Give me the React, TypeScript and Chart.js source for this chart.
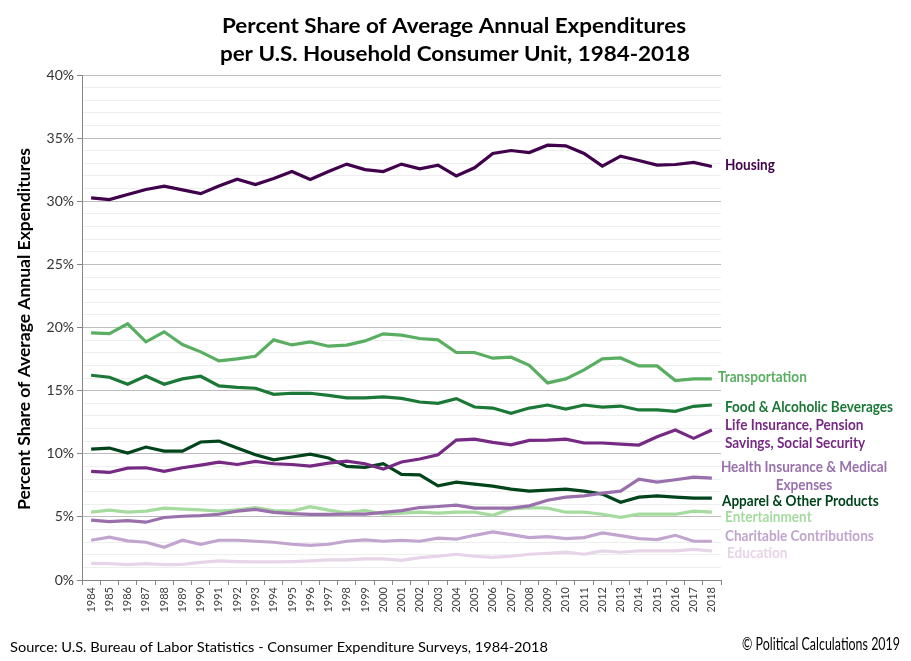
import React, { useEffect, useRef } from 'react';
import { Chart, registerables } from 'chart.js';

Chart.register(...registerables);

const years = ['1984','1985','1986','1987','1988','1989','1990','1991','1992','1993','1994','1995','1996','1997','1998','1999','2000','2001','2002','2003','2004','2005','2006','2007','2008','2009','2010','2011','2012','2013','2014','2015','2016','2017','2018'];

const housing = [30.26,30.13,30.53,30.93,31.19,30.9,30.6,31.2,31.75,31.32,31.8,32.35,31.72,32.35,32.94,32.51,32.35,32.94,32.57,32.86,32.01,32.65,33.78,34.02,33.86,34.44,34.39,33.78,32.78,33.57,33.23,32.86,32.91,33.07,32.75];
const transportation = [19.58,19.52,20.29,18.86,19.66,18.65,18.07,17.35,17.51,17.72,19.02,18.62,18.86,18.52,18.6,18.94,19.5,19.39,19.13,19.02,18.02,18.02,17.57,17.65,17.01,15.61,15.93,16.64,17.51,17.59,16.96,16.96,15.8,15.93,15.93];
const food = [16.22,16.06,15.5,16.16,15.5,15.93,16.14,15.37,15.26,15.19,14.71,14.79,14.79,14.63,14.42,14.42,14.5,14.39,14.1,13.99,14.37,13.7,13.62,13.2,13.62,13.86,13.54,13.86,13.7,13.78,13.47,13.47,13.36,13.76,13.86];
const lifeInsurance = [8.6,8.52,8.86,8.89,8.6,8.89,9.1,9.34,9.15,9.39,9.21,9.15,9.02,9.26,9.42,9.21,8.78,9.35,9.58,9.92,11.08,11.16,10.9,10.71,11.06,11.08,11.16,10.85,10.85,10.77,10.69,11.35,11.88,11.22,11.88];
const healthInsurance = [4.74,4.63,4.71,4.58,4.95,5.05,5.1,5.21,5.45,5.6,5.36,5.25,5.2,5.2,5.22,5.22,5.36,5.5,5.74,5.82,5.93,5.69,5.69,5.69,5.87,6.32,6.56,6.67,6.88,7.04,7.99,7.75,7.94,8.15,8.07];
const apparel = [10.37,10.45,10.05,10.53,10.21,10.21,10.93,11.0,10.45,9.92,9.52,9.74,9.97,9.66,9.0,8.92,9.22,8.37,8.33,7.46,7.75,7.59,7.43,7.2,7.04,7.12,7.2,7.04,6.8,6.16,6.56,6.67,6.56,6.48,6.48];
const entertainment = [5.37,5.53,5.37,5.45,5.69,5.61,5.56,5.45,5.56,5.73,5.49,5.46,5.81,5.54,5.33,5.52,5.22,5.3,5.37,5.29,5.37,5.37,5.13,5.63,5.74,5.69,5.37,5.37,5.21,4.97,5.21,5.21,5.21,5.45,5.37];
const charitable = [3.15,3.39,3.1,2.99,2.59,3.15,2.83,3.15,3.15,3.07,2.99,2.83,2.75,2.83,3.07,3.17,3.07,3.15,3.07,3.31,3.23,3.54,3.81,3.6,3.36,3.44,3.28,3.36,3.73,3.52,3.28,3.2,3.54,3.07,3.07];
const education = [1.32,1.3,1.22,1.3,1.22,1.24,1.4,1.51,1.46,1.43,1.43,1.46,1.51,1.59,1.59,1.67,1.67,1.56,1.77,1.88,2.04,1.88,1.8,1.88,2.04,2.12,2.2,2.04,2.3,2.2,2.3,2.3,2.3,2.43,2.3];

const TITLE = ['Percent Share of Average Annual Expenditures', 'per U.S. Household Consumer Unit, 1984-2018'];
const Y_TITLE = 'Percent Share of Average Annual Expenditures';
const SOURCE = 'Source: U.S. Bureau of Labor Statistics - Consumer Expenditure Surveys, 1984-2018';
const COPYRIGHT = '\u00A9 Political Calculations 2019';

const C = {
  housing: '#40004b',
  life: '#762a83',
  health: '#9970ab',
  charitable: '#c2a5cf',
  education: '#e7d4e8',
  entertainment: '#a6dba0',
  transportation: '#5aae61',
  food: '#1b7837',
  apparel: '#00441b',
};

const FONT = 'Lato, "Open Sans", sans-serif';

// right-hand series labels: text lines, colour, x position, y (in % units) per line, alignment
const LABELS = [
  { lines: ['Housing'], color: C.housing, x: 725, at: [32.87], align: 'left' },
  { lines: ['Transportation'], color: C.transportation, x: 718, at: [16.08], align: 'left' },
  { lines: ['Food & Alcoholic Beverages'], color: C.food, x: 725, at: [13.7], align: 'left' },
  { lines: ['Life Insurance, Pension', 'Savings, Social Security'], color: C.life, x: 725, at: [12.28, 10.85], align: 'left' },
  { lines: ['Health Insurance & Medical', 'Expenses'], color: C.health, x: 804, at: [8.95, 7.52], align: 'center' },
  { lines: ['Apparel & Other Products'], color: C.apparel, x: 722, at: [6.26], align: 'left' },
  { lines: ['Entertainment'], color: C.entertainment, x: 725, at: [4.99], align: 'left' },
  { lines: ['Charitable Contributions'], color: C.charitable, x: 725, at: [3.49], align: 'left' },
  { lines: ['Education'], color: C.education, x: 727, at: [2.14], align: 'left' },
];

// draw text at a given font size, condensed horizontally by factor sx
function drawText(
  ctx: CanvasRenderingContext2D, text: string, x: number, y: number,
  size: number, weight: string, sx: number, align: CanvasTextAlign,
) {
  ctx.save();
  ctx.translate(x, y);
  ctx.scale(sx, 1);
  ctx.font = `${weight} ${size}px ${FONT}`;
  ctx.textAlign = align;
  ctx.fillText(text, 0, 0);
  ctx.restore();
}

function fitScale(ctx: CanvasRenderingContext2D, text: string, width: number, size: number, weight: string) {
  ctx.font = `${weight} ${size}px ${FONT}`;
  return width / ctx.measureText(text).width;
}

const textPlugin = {
  id: 'customTexts',
  afterDraw(chart: any) {
    const ctx: CanvasRenderingContext2D = chart.ctx;
    const ys = chart.scales.y;
    ctx.save();
    ctx.textBaseline = 'middle';
    ctx.fillStyle = '#000';

    // title
    const tsx = fitScale(ctx, TITLE[0], 464, 21, 'bold');
    drawText(ctx, TITLE[0], 454, 26, 21, 'bold', tsx, 'center');
    drawText(ctx, TITLE[1], 455, 54, 21, 'bold', tsx, 'center');

    // y-axis title
    const ysx = fitScale(ctx, Y_TITLE, 362, 17, 'bold');
    ctx.save();
    ctx.translate(25, 329);
    ctx.rotate(-Math.PI / 2);
    drawText(ctx, Y_TITLE, 0, 0, 17, 'bold', ysx, 'center');
    ctx.restore();

    // source & copyright
    const ssx = fitScale(ctx, SOURCE, 538, 14, 'normal');
    drawText(ctx, SOURCE, 10, 647, 14, 'normal', ssx, 'left');
    const csx = fitScale(ctx, COPYRIGHT, 158, 17, 'normal');
    drawText(ctx, COPYRIGHT, 900, 645, 17, 'normal', csx, 'right');

    // series labels
    const lsx = fitScale(ctx, 'Food & Alcoholic Beverages', 168, 14.5, 'bold');
    LABELS.forEach((l) => {
      ctx.fillStyle = l.color;
      l.lines.forEach((t, i) => {
        drawText(ctx, t, l.x, ys.getPixelForValue(l.at[i]), 14.5, 'bold', lsx, l.align as CanvasTextAlign);
      });
    });
    ctx.restore();
  },
};

export default function App() {
  const ref = useRef<HTMLCanvasElement>(null);

  useEffect(() => {
    if (!ref.current) return;
    const mk = (label: string, data: number[], color: string) => ({
      label,
      data,
      borderColor: color,
      backgroundColor: color,
      borderWidth: 3.2,
      pointRadius: 0,
      pointHoverRadius: 0,
      tension: 0,
      fill: false,
    });
    const chart = new Chart(ref.current, {
      type: 'line',
      data: {
        labels: years,
        datasets: [
          mk('Education', education, C.education),
          mk('Charitable Contributions', charitable, C.charitable),
          mk('Health Insurance & Medical Expenses', healthInsurance, C.health),
          mk('Entertainment', entertainment, C.entertainment),
          mk('Life Insurance, Pension Savings, Social Security', lifeInsurance, C.life),
          mk('Apparel & Other Products', apparel, C.apparel),
          mk('Food & Alcoholic Beverages', food, C.food),
          mk('Transportation', transportation, C.transportation),
          mk('Housing', housing, C.housing),
        ],
      },
      options: {
        animation: false,
        responsive: true,
        maintainAspectRatio: false,
        layout: { padding: { left: 0, right: 190, top: 75, bottom: 41 } },
        plugins: {
          legend: { display: false },
          title: { display: false },
          tooltip: { enabled: false },
        },
        scales: {
          x: {
            type: 'category',
            offset: true,
            grid: {
              display: true,
              drawOnChartArea: false,
              offset: true,
              tickLength: 5,
              color: '#868686',
            },
            border: { color: '#868686', width: 1 },
            ticks: {
              autoSkip: false,
              minRotation: 90,
              maxRotation: 90,
              padding: 2,
              color: '#404040',
              font: { family: FONT, size: 11 },
            },
            afterFit: (s: any) => { s.height = 40; },
          },
          y: {
            min: 0,
            max: 40,
            ticks: {
              stepSize: 1,
              autoSkip: false,
              padding: 3,
              color: '#333333',
              font: { family: FONT, size: 14 },
              callback: (v: any) => (Number(v) % 5 === 0 ? `${v}%` : ''),
            },
            grid: {
              color: (c: any) => (c.tick && c.tick.value % 5 === 0 ? '#BDBDBD' : '#EEEEEE'),
              tickColor: (c: any) => (c.tick && c.tick.value % 5 === 0 ? '#868686' : 'rgba(0,0,0,0)'),
              tickLength: 5,
              lineWidth: 1,
            },
            border: { color: '#868686', width: 1 },
            afterFit: (s: any) => { s.width = 82; },
          },
        },
      },
      plugins: [textPlugin],
    });
    return () => chart.destroy();
  }, []);

  return (
    <div style={{ position: 'absolute', left: 0, top: 0, width: 911, height: 661, background: '#fff' }}>
      <canvas ref={ref} />
    </div>
  );
}
